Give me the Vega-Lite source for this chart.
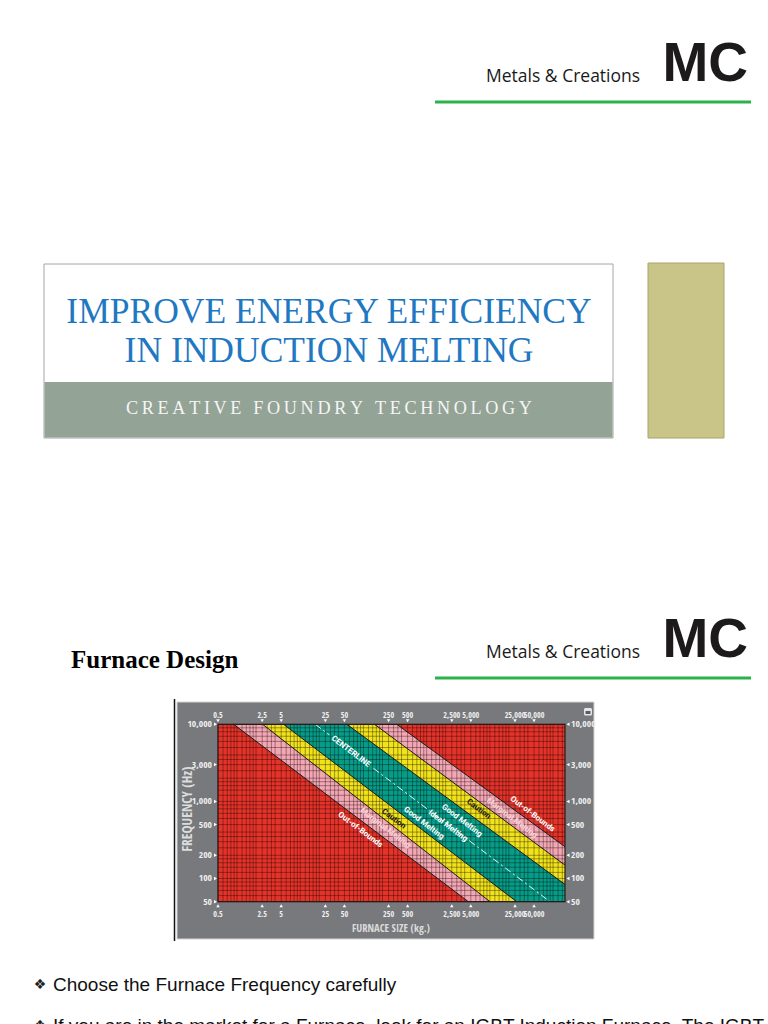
{
  "$schema": "https://vega.github.io/schema/vega-lite/v6.json",
  "width": 768,
  "height": 1024,
  "autosize": {"type": "none"},
  "padding": 0,
  "background": "white",
  "config": {"view": {"stroke": null}},
  "data": {"values": [{}]},
  "datasets": {
    "zones": [
      {"zone": "Marginal (small side)", "size": 0.883, "freq": 10000},
      {"zone": "Marginal (small side)", "size": 4570, "freq": 50},
      {"zone": "Marginal (small side)", "size": 154500, "freq": 50},
      {"zone": "Caution (small side)", "size": 2.54, "freq": 10000},
      {"zone": "Caution (small side)", "size": 10070, "freq": 50},
      {"zone": "Caution (small side)", "size": 154500, "freq": 50},
      {"zone": "Good Melting", "size": 5.45, "freq": 10000},
      {"zone": "Good Melting", "size": 26600, "freq": 50},
      {"zone": "Good Melting", "size": 154500, "freq": 50},
      {"zone": "Caution (large side)", "size": 54.7, "freq": 10000},
      {"zone": "Caution (large side)", "size": 154500, "freq": 83.8},
      {"zone": "Marginal (large side)", "size": 149.6, "freq": 10000},
      {"zone": "Marginal (large side)", "size": 154500, "freq": 149},
      {"zone": "Out-of-Bounds (large side)", "size": 337, "freq": 10000},
      {"zone": "Out-of-Bounds (large side)", "size": 154500, "freq": 258}
    ],
    "edges": [
      {"edge": "e1", "size": 0.883, "freq": 10000}, {"edge": "e1", "size": 4570, "freq": 50},
      {"edge": "e2", "size": 2.54, "freq": 10000}, {"edge": "e2", "size": 10070, "freq": 50},
      {"edge": "e3", "size": 5.45, "freq": 10000}, {"edge": "e3", "size": 26600, "freq": 50},
      {"edge": "e5", "size": 54.7, "freq": 10000}, {"edge": "e5", "size": 154500, "freq": 83.8},
      {"edge": "e6", "size": 149.6, "freq": 10000}, {"edge": "e6", "size": 154500, "freq": 149},
      {"edge": "e7", "size": 337, "freq": 10000}, {"edge": "e7", "size": 154500, "freq": 258}
    ],
    "centerline": [
      {"seg": "a", "size": 17.3, "freq": 10000}, {"seg": "a", "size": 28.8, "freq": 7288},
      {"seg": "b", "size": 144, "freq": 2685}, {"seg": "b", "size": 89500, "freq": 50}
    ],
    "gridx": [0.5,0.6,0.7,0.8,0.9,1,1.2,1.4,1.6,1.8,2,2.5,3,3.5,4,5,6,7,8,9,10,12,14,16,18,20,25,30,35,40,50,60,70,80,90,100,120,140,160,180,200,250,300,350,400,500,600,700,800,900,1000,1200,1400,1600,1800,2000,2500,3000,3500,4000,5000,6000,7000,8000,9000,10000,12000,14000,16000,18000,20000,25000,30000,35000,40000,50000,60000,70000,80000,90000,100000,120000,140000],
    "gridy": [50,60,70,80,90,100,120,140,160,180,200,250,300,350,400,500,600,700,800,900,1000,1200,1400,1600,1800,2000,2500,3000,3500,4000,5000,6000,7000,8000,9000,10000],
    "zonelabels": [
      {"label": "CENTERLINE", "size": 63, "freq": 4400, "tone": "light"},
      {"label": "Out-of-Bounds", "size": 88.8, "freq": 425, "tone": "light"},
      {"label": "Marginal Melting", "size": 221, "freq": 447, "tone": "faint"},
      {"label": "Caution", "size": 300, "freq": 590, "tone": "dark"},
      {"label": "Good Melting", "size": 900, "freq": 520, "tone": "light"},
      {"label": "Ideal Melting", "size": 2163, "freq": 479, "tone": "light"},
      {"label": "Good Melting", "size": 3597, "freq": 561, "tone": "light"},
      {"label": "Caution", "size": 6600, "freq": 790, "tone": "dark"},
      {"label": "Marginal Melting", "size": 22180, "freq": 603, "tone": "faint"},
      {"label": "Out-of-Bounds", "size": 46990, "freq": 679, "tone": "light"}
    ],
    "xticks": [0.5, 2.5, 5, 25, 50, 250, 500, 2500, 5000, 25000, 50000],
    "yticks": [10000, 3000, 1000, 500, 200, 100, 50]
  },
  "resolve": {"scale": {"x": "independent", "y": "independent"}},
  "layer": [
    {
      "layer": [
        {"mark": {"type": "rule", "color": "#2bb34a", "strokeWidth": 3},
         "encoding": {"x": {"datum": 435, "type": "quantitative", "scale": {"domain": [0, 768], "nice": false, "zero": false}, "axis": null}, "x2": {"datum": 751},
                      "y": {"datum": 102, "type": "quantitative", "scale": {"domain": [0, 1024], "nice": false, "zero": false, "reverse": true}, "axis": null}}},
        {"mark": {"type": "rule", "color": "#2bb34a", "strokeWidth": 3},
         "encoding": {"x": {"datum": 435, "type": "quantitative", "scale": {"domain": [0, 768], "nice": false, "zero": false}, "axis": null}, "x2": {"datum": 751},
                      "y": {"datum": 678, "type": "quantitative", "scale": {"domain": [0, 1024], "nice": false, "zero": false, "reverse": true}, "axis": null}}},
        {"mark": {"type": "text", "text": "Metals & Creations", "align": "left", "baseline": "alphabetic", "font": "Open Sans", "fontSize": 17.5, "color": "#1a1a1a"},
         "encoding": {"x": {"datum": 486, "type": "quantitative", "scale": {"domain": [0, 768], "nice": false, "zero": false}, "axis": null},
                      "y": {"datum": 82, "type": "quantitative", "scale": {"domain": [0, 1024], "nice": false, "zero": false, "reverse": true}, "axis": null}}},
        {"mark": {"type": "text", "text": "Metals & Creations", "align": "left", "baseline": "alphabetic", "font": "Open Sans", "fontSize": 17.5, "color": "#1a1a1a"},
         "encoding": {"x": {"datum": 486, "type": "quantitative", "scale": {"domain": [0, 768], "nice": false, "zero": false}, "axis": null},
                      "y": {"datum": 658, "type": "quantitative", "scale": {"domain": [0, 1024], "nice": false, "zero": false, "reverse": true}, "axis": null}}},
        {"mark": {"type": "text", "text": "MC", "align": "right", "baseline": "alphabetic", "font": "Liberation Sans", "fontWeight": "bold", "fontSize": 55, "color": "#1c1a1a"},
         "encoding": {"x": {"datum": 748, "type": "quantitative", "scale": {"domain": [0, 768], "nice": false, "zero": false}, "axis": null},
                      "y": {"datum": 81, "type": "quantitative", "scale": {"domain": [0, 1024], "nice": false, "zero": false, "reverse": true}, "axis": null}}},
        {"mark": {"type": "text", "text": "MC", "align": "right", "baseline": "alphabetic", "font": "Liberation Sans", "fontWeight": "bold", "fontSize": 55, "color": "#1c1a1a"},
         "encoding": {"x": {"datum": 748, "type": "quantitative", "scale": {"domain": [0, 768], "nice": false, "zero": false}, "axis": null},
                      "y": {"datum": 657, "type": "quantitative", "scale": {"domain": [0, 1024], "nice": false, "zero": false, "reverse": true}, "axis": null}}},
        {"mark": {"type": "rect", "fill": "#ffffff", "stroke": "#a6a6a6", "strokeWidth": 1},
         "encoding": {"x": {"datum": 44, "type": "quantitative", "scale": {"domain": [0, 768], "nice": false, "zero": false}, "axis": null}, "x2": {"datum": 613},
                      "y": {"datum": 264, "type": "quantitative", "scale": {"domain": [0, 1024], "nice": false, "zero": false, "reverse": true}, "axis": null}, "y2": {"datum": 438}}},
        {"mark": {"type": "rect", "fill": "#93a396"},
         "encoding": {"x": {"datum": 44.5, "type": "quantitative", "scale": {"domain": [0, 768], "nice": false, "zero": false}, "axis": null}, "x2": {"datum": 612.5},
                      "y": {"datum": 382, "type": "quantitative", "scale": {"domain": [0, 1024], "nice": false, "zero": false, "reverse": true}, "axis": null}, "y2": {"datum": 437.5}}},
        {"mark": {"type": "text", "text": "IMPROVE ENERGY EFFICIENCY", "align": "center", "baseline": "alphabetic", "font": "Liberation Serif", "fontSize": 35.5, "color": "#1f78c2"},
         "encoding": {"x": {"datum": 329, "type": "quantitative", "scale": {"domain": [0, 768], "nice": false, "zero": false}, "axis": null},
                      "y": {"datum": 323, "type": "quantitative", "scale": {"domain": [0, 1024], "nice": false, "zero": false, "reverse": true}, "axis": null}}},
        {"mark": {"type": "text", "text": "IN INDUCTION MELTING", "align": "center", "baseline": "alphabetic", "font": "Liberation Serif", "fontSize": 35.5, "color": "#1f78c2"},
         "encoding": {"x": {"datum": 329, "type": "quantitative", "scale": {"domain": [0, 768], "nice": false, "zero": false}, "axis": null},
                      "y": {"datum": 362, "type": "quantitative", "scale": {"domain": [0, 1024], "nice": false, "zero": false, "reverse": true}, "axis": null}}},
        {"mark": {"type": "text", "text": "C\u2009R\u2009E\u2009A\u2009T\u2009I\u2009V\u2009E\u2009 \u2009F\u2009O\u2009U\u2009N\u2009D\u2009R\u2009Y\u2009 \u2009T\u2009E\u2009C\u2009H\u2009N\u2009O\u2009L\u2009O\u2009G\u2009Y", "align": "center", "baseline": "alphabetic", "font": "Liberation Serif", "fontSize": 18.2, "color": "#f5f5f5"},
         "encoding": {"x": {"datum": 329, "type": "quantitative", "scale": {"domain": [0, 768], "nice": false, "zero": false}, "axis": null},
                      "y": {"datum": 414, "type": "quantitative", "scale": {"domain": [0, 1024], "nice": false, "zero": false, "reverse": true}, "axis": null}}},
        {"mark": {"type": "rect", "fill": "#c9c487", "stroke": "#a9a46c", "strokeWidth": 1},
         "encoding": {"x": {"datum": 648, "type": "quantitative", "scale": {"domain": [0, 768], "nice": false, "zero": false}, "axis": null}, "x2": {"datum": 724},
                      "y": {"datum": 263, "type": "quantitative", "scale": {"domain": [0, 1024], "nice": false, "zero": false, "reverse": true}, "axis": null}, "y2": {"datum": 438}}},
        {"mark": {"type": "text", "text": "Furnace Design", "align": "left", "baseline": "alphabetic", "font": "Liberation Serif", "fontWeight": "bold", "fontSize": 25, "color": "#000000"},
         "encoding": {"x": {"datum": 71, "type": "quantitative", "scale": {"domain": [0, 768], "nice": false, "zero": false}, "axis": null},
                      "y": {"datum": 668, "type": "quantitative", "scale": {"domain": [0, 1024], "nice": false, "zero": false, "reverse": true}, "axis": null}}},
        {"mark": {"type": "rect", "fill": "#77797c", "stroke": "#d4d4d4", "strokeWidth": 1},
         "encoding": {"x": {"datum": 177, "type": "quantitative", "scale": {"domain": [0, 768], "nice": false, "zero": false}, "axis": null}, "x2": {"datum": 594},
                      "y": {"datum": 702, "type": "quantitative", "scale": {"domain": [0, 1024], "nice": false, "zero": false, "reverse": true}, "axis": null}, "y2": {"datum": 939}}},
        {"mark": {"type": "rule", "color": "#111111", "strokeWidth": 1.5},
         "encoding": {"x": {"datum": 174.5, "type": "quantitative", "scale": {"domain": [0, 768], "nice": false, "zero": false}, "axis": null},
                      "y": {"datum": 699, "type": "quantitative", "scale": {"domain": [0, 1024], "nice": false, "zero": false, "reverse": true}, "axis": null}, "y2": {"datum": 941}}},
        {"mark": {"type": "rect", "fill": "#e6e6e6", "cornerRadius": 1.5},
         "encoding": {"x": {"datum": 584, "type": "quantitative", "scale": {"domain": [0, 768], "nice": false, "zero": false}, "axis": null}, "x2": {"datum": 592},
                      "y": {"datum": 708, "type": "quantitative", "scale": {"domain": [0, 1024], "nice": false, "zero": false, "reverse": true}, "axis": null}, "y2": {"datum": 715.5}}},
        {"mark": {"type": "rect", "fill": "#5a5c5f"},
         "encoding": {"x": {"datum": 585.5, "type": "quantitative", "scale": {"domain": [0, 768], "nice": false, "zero": false}, "axis": null}, "x2": {"datum": 590.5},
                      "y": {"datum": 711, "type": "quantitative", "scale": {"domain": [0, 1024], "nice": false, "zero": false, "reverse": true}, "axis": null}, "y2": {"datum": 714}}},
        {"mark": {"type": "text", "text": "FURNACE SIZE (kg.)", "align": "center", "baseline": "middle", "font": "Noto Sans Condensed, Open Sans Condensed, Roboto Condensed, Roboto", "fontSize": 10.5, "color": "#dcdcdc"},
         "encoding": {"x": {"datum": 391, "type": "quantitative", "scale": {"domain": [0, 768], "nice": false, "zero": false}, "axis": null},
                      "y": {"datum": 929, "type": "quantitative", "scale": {"domain": [0, 1024], "nice": false, "zero": false, "reverse": true}, "axis": null}}},
        {"mark": {"type": "text", "text": "FREQUENCY (Hz)", "align": "center", "baseline": "middle", "angle": 270, "font": "Noto Sans Condensed, Open Sans Condensed, Roboto Condensed, Roboto", "fontSize": 13.5, "color": "#dcdcdc"},
         "encoding": {"x": {"datum": 188, "type": "quantitative", "scale": {"domain": [0, 768], "nice": false, "zero": false}, "axis": null},
                      "y": {"datum": 809, "type": "quantitative", "scale": {"domain": [0, 1024], "nice": false, "zero": false, "reverse": true}, "axis": null}}},
        {"mark": {"type": "text", "text": "❖", "align": "center", "baseline": "middle", "font": "DejaVu Sans", "fontSize": 14, "color": "#222222"},
         "encoding": {"x": {"datum": 40, "type": "quantitative", "scale": {"domain": [0, 768], "nice": false, "zero": false}, "axis": null},
                      "y": {"datum": 985, "type": "quantitative", "scale": {"domain": [0, 1024], "nice": false, "zero": false, "reverse": true}, "axis": null}}},
        {"mark": {"type": "text", "text": "Choose the Furnace Frequency carefully", "align": "left", "baseline": "alphabetic", "font": "Liberation Sans", "fontSize": 19, "color": "#111111"},
         "encoding": {"x": {"datum": 53, "type": "quantitative", "scale": {"domain": [0, 768], "nice": false, "zero": false}, "axis": null},
                      "y": {"datum": 991, "type": "quantitative", "scale": {"domain": [0, 1024], "nice": false, "zero": false, "reverse": true}, "axis": null}}},
        {"mark": {"type": "text", "text": "❖", "align": "center", "baseline": "middle", "font": "DejaVu Sans", "fontSize": 14, "color": "#222222", "clip": true},
         "encoding": {"x": {"datum": 40, "type": "quantitative", "scale": {"domain": [0, 768], "nice": false, "zero": false}, "axis": null},
                      "y": {"datum": 1026, "type": "quantitative", "scale": {"domain": [0, 1024], "nice": false, "zero": false, "reverse": true}, "axis": null}}},
        {"mark": {"type": "text", "text": "If you are in the market for a Furnace, look for an IGBT Induction Furnace. The IGBT", "align": "left", "baseline": "alphabetic", "font": "Liberation Sans", "fontSize": 19, "color": "#111111", "clip": true},
         "encoding": {"x": {"datum": 53, "type": "quantitative", "scale": {"domain": [0, 768], "nice": false, "zero": false}, "axis": null},
                      "y": {"datum": 1032, "type": "quantitative", "scale": {"domain": [0, 1024], "nice": false, "zero": false, "reverse": true}, "axis": null}}}
      ]
    },
    {
      "resolve": {"scale": {"color": "independent"}},
      "layer": [
        {"mark": {"type": "rect", "color": "#e6332a"},
         "encoding": {"x": {"datum": 0.5, "type": "quantitative", "scale": {"type": "log", "domain": [0.5, 154500], "range": [218, 565], "nice": false}, "axis": null}, "x2": {"datum": 154500},
                      "y": {"datum": 50, "type": "quantitative", "scale": {"type": "log", "domain": [50, 10000], "range": [901.7, 724.3], "nice": false}, "axis": null}, "y2": {"datum": 10000}}},
        {"data": {"name": "zones"},
         "mark": {"type": "area", "orient": "vertical", "opacity": 1},
         "encoding": {"x": {"field": "size", "type": "quantitative", "scale": {"type": "log", "domain": [0.5, 154500], "range": [218, 565], "nice": false}, "axis": null},
                      "y": {"field": "freq", "type": "quantitative", "stack": null, "scale": {"type": "log", "domain": [50, 10000], "range": [901.7, 724.3], "nice": false}, "axis": null},
                      "y2": {"datum": 10000},
                      "color": {"field": "zone", "type": "nominal", "legend": null,
                                "scale": {"domain": ["Marginal (small side)", "Caution (small side)", "Good Melting", "Caution (large side)", "Marginal (large side)", "Out-of-Bounds (large side)"],
                                          "range": ["#f4a6b3", "#f2e21c", "#079c88", "#f2e21c", "#f4a6b3", "#e6332a"]}}}},
        {"data": {"name": "gridx"},
         "mark": {"type": "rule", "color": "#000000", "strokeWidth": 0.8, "opacity": 0.45},
         "encoding": {"x": {"field": "data", "type": "quantitative", "scale": {"type": "log", "domain": [0.5, 154500], "range": [218, 565], "nice": false}, "axis": null},
                      "y": {"datum": 50, "type": "quantitative", "scale": {"type": "log", "domain": [50, 10000], "range": [901.7, 724.3], "nice": false}, "axis": null}, "y2": {"datum": 10000}}},
        {"data": {"name": "gridy"},
         "mark": {"type": "rule", "color": "#000000", "strokeWidth": 0.8, "opacity": 0.45},
         "encoding": {"y": {"field": "data", "type": "quantitative", "scale": {"type": "log", "domain": [50, 10000], "range": [901.7, 724.3], "nice": false}, "axis": null},
                      "x": {"datum": 0.5, "type": "quantitative", "scale": {"type": "log", "domain": [0.5, 154500], "range": [218, 565], "nice": false}, "axis": null}, "x2": {"datum": 154500}}},
        {"data": {"name": "edges"},
         "mark": {"type": "line", "color": "#1a1a1a", "strokeWidth": 1},
         "encoding": {"x": {"field": "size", "type": "quantitative", "scale": {"type": "log", "domain": [0.5, 154500], "range": [218, 565], "nice": false}, "axis": null},
                      "y": {"field": "freq", "type": "quantitative", "scale": {"type": "log", "domain": [50, 10000], "range": [901.7, 724.3], "nice": false}, "axis": null},
                      "detail": {"field": "edge", "type": "nominal"}}},
        {"data": {"name": "centerline"},
         "mark": {"type": "line", "color": "#ffffff", "strokeWidth": 1, "strokeDash": [7, 3, 2, 3], "opacity": 0.9},
         "encoding": {"x": {"field": "size", "type": "quantitative", "scale": {"type": "log", "domain": [0.5, 154500], "range": [218, 565], "nice": false}, "axis": null},
                      "y": {"field": "freq", "type": "quantitative", "scale": {"type": "log", "domain": [50, 10000], "range": [901.7, 724.3], "nice": false}, "axis": null},
                      "detail": {"field": "seg", "type": "nominal"}}},
        {"data": {"name": "zonelabels"},
         "mark": {"type": "text", "angle": 37, "align": "center", "baseline": "middle", "font": "Roboto", "fontWeight": "bold", "fontSize": 8},
         "encoding": {"x": {"field": "size", "type": "quantitative", "scale": {"type": "log", "domain": [0.5, 154500], "range": [218, 565], "nice": false}, "axis": null},
                      "y": {"field": "freq", "type": "quantitative", "scale": {"type": "log", "domain": [50, 10000], "range": [901.7, 724.3], "nice": false}, "axis": null},
                      "text": {"field": "label"},
                      "color": {"field": "tone", "type": "nominal", "legend": null, "scale": {"domain": ["light", "dark", "faint"], "range": ["#ffffff", "#151515", "#f8d5db"]}}}},
        {"mark": {"type": "rect", "fill": null, "fillOpacity": 0, "stroke": "#2a1a1a", "strokeWidth": 1.2},
         "encoding": {"x": {"datum": 0.5, "type": "quantitative", "scale": {"type": "log", "domain": [0.5, 154500], "range": [218, 565], "nice": false}, "axis": null}, "x2": {"datum": 154500},
                      "y": {"datum": 50, "type": "quantitative", "scale": {"type": "log", "domain": [50, 10000], "range": [901.7, 724.3], "nice": false}, "axis": null}, "y2": {"datum": 10000}}},
        {"data": {"name": "xticks"},
         "mark": {"type": "text", "align": "center", "baseline": "alphabetic", "dy": -6, "font": "Noto Sans Condensed, Open Sans Condensed, Roboto Condensed, Roboto", "fontSize": 8, "color": "#f0f0f0"},
         "encoding": {"x": {"field": "data", "type": "quantitative", "scale": {"type": "log", "domain": [0.5, 154500], "range": [218, 565], "nice": false}, "axis": null},
                      "y": {"datum": 10000, "type": "quantitative", "scale": {"type": "log", "domain": [50, 10000], "range": [901.7, 724.3], "nice": false}, "axis": null},
                      "text": {"field": "data", "type": "quantitative", "format": ","}}},
        {"data": {"name": "xticks"},
         "mark": {"type": "text", "align": "center", "baseline": "alphabetic", "dy": 15, "font": "Noto Sans Condensed, Open Sans Condensed, Roboto Condensed, Roboto", "fontSize": 8, "color": "#f0f0f0"},
         "encoding": {"x": {"field": "data", "type": "quantitative", "scale": {"type": "log", "domain": [0.5, 154500], "range": [218, 565], "nice": false}, "axis": null},
                      "y": {"datum": 50, "type": "quantitative", "scale": {"type": "log", "domain": [50, 10000], "range": [901.7, 724.3], "nice": false}, "axis": null},
                      "text": {"field": "data", "type": "quantitative", "format": ","}}},
        {"data": {"name": "yticks"},
         "mark": {"type": "text", "align": "right", "baseline": "middle", "dx": -6, "font": "Noto Sans Condensed, Open Sans Condensed, Roboto Condensed, Roboto", "fontSize": 9.5, "color": "#f0f0f0"},
         "encoding": {"y": {"field": "data", "type": "quantitative", "scale": {"type": "log", "domain": [50, 10000], "range": [901.7, 724.3], "nice": false}, "axis": null},
                      "x": {"datum": 0.5, "type": "quantitative", "scale": {"type": "log", "domain": [0.5, 154500], "range": [218, 565], "nice": false}, "axis": null},
                      "text": {"field": "data", "type": "quantitative", "format": ","}}},
        {"data": {"name": "yticks"},
         "mark": {"type": "text", "align": "left", "baseline": "middle", "dx": 6, "font": "Noto Sans Condensed, Open Sans Condensed, Roboto Condensed, Roboto", "fontSize": 9.5, "color": "#f0f0f0"},
         "encoding": {"y": {"field": "data", "type": "quantitative", "scale": {"type": "log", "domain": [50, 10000], "range": [901.7, 724.3], "nice": false}, "axis": null},
                      "x": {"datum": 154500, "type": "quantitative", "scale": {"type": "log", "domain": [0.5, 154500], "range": [218, 565], "nice": false}, "axis": null},
                      "text": {"field": "data", "type": "quantitative", "format": ","}}},
        {"data": {"name": "xticks"},
         "mark": {"type": "point", "shape": "triangle-down", "filled": true, "size": 12, "color": "#ffffff", "opacity": 1, "yOffset": -3.5},
         "encoding": {"x": {"field": "data", "type": "quantitative", "scale": {"type": "log", "domain": [0.5, 154500], "range": [218, 565], "nice": false}, "axis": null},
                      "y": {"datum": 10000, "type": "quantitative", "scale": {"type": "log", "domain": [50, 10000], "range": [901.7, 724.3], "nice": false}, "axis": null}}},
        {"data": {"name": "xticks"},
         "mark": {"type": "point", "shape": "triangle-up", "filled": true, "size": 12, "color": "#ffffff", "opacity": 1, "yOffset": 4},
         "encoding": {"x": {"field": "data", "type": "quantitative", "scale": {"type": "log", "domain": [0.5, 154500], "range": [218, 565], "nice": false}, "axis": null},
                      "y": {"datum": 50, "type": "quantitative", "scale": {"type": "log", "domain": [50, 10000], "range": [901.7, 724.3], "nice": false}, "axis": null}}},
        {"data": {"name": "yticks"},
         "mark": {"type": "point", "shape": "triangle-right", "filled": true, "size": 12, "color": "#ffffff", "opacity": 1, "xOffset": -2.5},
         "encoding": {"y": {"field": "data", "type": "quantitative", "scale": {"type": "log", "domain": [50, 10000], "range": [901.7, 724.3], "nice": false}, "axis": null},
                      "x": {"datum": 0.5, "type": "quantitative", "scale": {"type": "log", "domain": [0.5, 154500], "range": [218, 565], "nice": false}, "axis": null}}},
        {"data": {"name": "yticks"},
         "mark": {"type": "point", "shape": "triangle-left", "filled": true, "size": 12, "color": "#ffffff", "opacity": 1, "xOffset": 3},
         "encoding": {"y": {"field": "data", "type": "quantitative", "scale": {"type": "log", "domain": [50, 10000], "range": [901.7, 724.3], "nice": false}, "axis": null},
                      "x": {"datum": 154500, "type": "quantitative", "scale": {"type": "log", "domain": [0.5, 154500], "range": [218, 565], "nice": false}, "axis": null}}}
      ]
    }
  ]
}
